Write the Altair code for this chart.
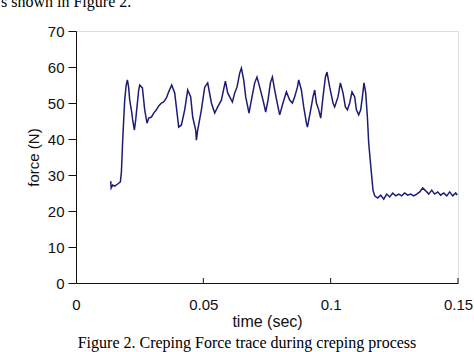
import altair as alt
import pandas as pd

# time (s) and force (N)
time_s = [0.01363, 0.01382, 0.01441, 0.0152, 0.01637, 0.01743, 0.01783, 0.01834, 0.01912, 0.01971,
          0.02018, 0.0207, 0.02109, 0.02187, 0.02226, 0.02293, 0.02344, 0.02383, 0.02462, 0.02501,
          0.02607, 0.02658, 0.02698, 0.02788, 0.02855, 0.02961, 0.03051, 0.03157, 0.03247, 0.03353,
          0.03444, 0.0355, 0.0364, 0.03758, 0.03876, 0.03954, 0.04033, 0.04139, 0.04268, 0.04386,
          0.04504, 0.04582, 0.047, 0.04728, 0.04779, 0.04924, 0.05054, 0.05171, 0.05317, 0.05446,
          0.05564, 0.05709, 0.05866, 0.05957, 0.06102, 0.06141, 0.06232, 0.06322, 0.06428, 0.06495,
          0.06585, 0.06664, 0.06754, 0.06793, 0.06887, 0.07017, 0.07107, 0.07213, 0.07343, 0.07449,
          0.0754, 0.07633, 0.07712, 0.07802, 0.07932, 0.07999, 0.08128, 0.08262, 0.08391, 0.08497,
          0.08588, 0.08694, 0.08745, 0.08851, 0.08942, 0.09048, 0.09087, 0.09216, 0.09306, 0.09373,
          0.0944, 0.0953, 0.09609, 0.09699, 0.09793, 0.09856, 0.09962, 0.10092, 0.10158, 0.10288,
          0.10382, 0.10484, 0.10578, 0.10657, 0.10747, 0.10838, 0.10944, 0.1101, 0.11101, 0.11179,
          0.11246, 0.11309, 0.11376, 0.11442, 0.11493, 0.11599, 0.11662, 0.11729,
          0.11847, 0.11965, 0.12083, 0.122, 0.12318, 0.12436, 0.12554, 0.12672, 0.1279, 0.12907,
          0.13025, 0.13143, 0.13261, 0.13379, 0.13497, 0.13614, 0.13732, 0.1385, 0.13968, 0.14086,
          0.14203, 0.14321, 0.14439, 0.14557, 0.14675, 0.14793, 0.1491, 0.1497]
force_n = [28.3, 26.4, 27.2, 26.9, 27.5, 28.1, 30.8, 39.7, 50.8, 55.0,
           56.4, 54.2, 50.8, 47.5, 45.3, 42.5, 45.3, 48.1, 53.6, 55.0,
           54.2, 50.8, 48.1, 44.4, 45.8, 46.1, 47.2, 48.1, 49.2, 50.0,
           50.3, 51.4, 53.1, 55.0, 52.8, 48.1, 43.3, 43.9, 48.1, 53.6,
           51.7, 46.1, 42.5, 39.7, 42.5, 48.1, 54.4, 55.6, 50.0, 47.2,
           48.9, 50.8, 56.1, 52.8, 50.8, 50.3, 52.8, 54.4, 58.3, 59.7,
           56.4, 51.7, 48.6, 47.2, 50.8, 55.6, 57.2, 54.4, 50.8, 47.5,
           50.8, 55.6, 57.2, 53.6, 48.9, 46.7, 50.0, 53.1, 50.8, 50.0,
           51.7, 54.4, 56.4, 53.6, 48.9, 44.4, 43.3, 48.1, 51.7, 53.6,
           50.0, 48.1, 45.8, 51.7, 57.2, 58.6, 54.4, 50.0, 48.9, 51.7,
           55.6, 52.8, 48.9, 48.1, 50.0, 53.1, 51.7, 48.1, 46.7, 48.1,
           51.7, 55.6, 52.8, 46.1, 38.9, 30.6, 25.8, 24.2,
           23.6, 24.4, 23.3, 24.7, 23.9, 25.0, 24.2, 24.7, 24.2, 25.0,
           24.4, 24.7, 24.2, 24.7, 25.3, 26.4, 25.6, 24.7, 25.8, 24.7,
           25.3, 24.4, 25.0, 24.2, 25.3, 24.2, 25.0, 24.4]

x_tick_values = [0, 0.05, 0.1, 0.15]
inner_ticks = [0.05, 0.1, 0.15]
y_tick_values = [0, 10, 20, 30, 40, 50, 60, 70]

caption = "Figure 2. Creping Force trace during creping process"
top_text = "s shown in Figure 2."

df = pd.DataFrame({"t": time_s, "f": force_n})
ticks_df = pd.DataFrame({"t": inner_ticks})
text_df = pd.DataFrame({"a": [0]})

W, H = 382, 252
LBL = "Liberation Sans"
SERIF = "Liberation Serif"

x_scale = alt.Scale(domain=[0, 0.15], nice=False, zero=False)
y_scale = alt.Scale(domain=[0, 70], nice=False)

line = alt.Chart(df).mark_line(color="#1c1c74", strokeWidth=1.5).encode(
    x=alt.X("t:Q", scale=x_scale, title="time (sec)",
            axis=alt.Axis(values=x_tick_values, grid=False, tickSize=0,
                          labelExpr="datum.value == 0 ? '0' : format(datum.value, '.2~f')",
                          labelFont=LBL, labelFontSize=15, labelColor="#111",
                          labelPadding=14, labelFlush=False,
                          titleFont=LBL, titleFontSize=16, titleFontWeight="normal",
                          titleColor="#111", titlePadding=1,
                          domainColor="#111", domainWidth=1)),
    y=alt.Y("f:Q", scale=y_scale, title="force (N)",
            axis=alt.Axis(values=y_tick_values, grid=False, tickSize=8,
                          tickColor="#111", labelFont=LBL, labelFontSize=15,
                          labelColor="#111", labelPadding=4,
                          titleFont=LBL, titleFontSize=15, titleFontWeight="normal",
                          titleColor="#111", titlePadding=6,
                          domainColor="#111", domainWidth=1)),
)

inner = alt.Chart(ticks_df).mark_rule(color="#111", strokeWidth=1).encode(
    x=alt.X("t:Q", scale=x_scale),
    y=alt.value(H),
    y2=alt.value(H - 5),
)

cap = alt.Chart(text_df).mark_text(font=SERIF, fontSize=16, color="#000",
                                   align="center", baseline="middle").encode(
    x=alt.value(171), y=alt.value(H + 60), text=alt.value(caption))

top = alt.Chart(text_df).mark_text(font=SERIF, fontSize=16, color="#000",
                                   align="left", baseline="alphabetic").encode(
    x=alt.value(-75), y=alt.value(-24), text=alt.value(top_text))

chart = alt.layer(line, inner, cap, top).properties(
    width=W, height=H,
    autosize=alt.AutoSizeParams(type="none"),
    padding={"left": 76, "top": 31, "right": 16, "bottom": 69},
).configure_view(stroke="#222", strokeWidth=1).configure(background="white")

chart.save("out.html", embed_options={"renderer": "svg", "actions": False})
